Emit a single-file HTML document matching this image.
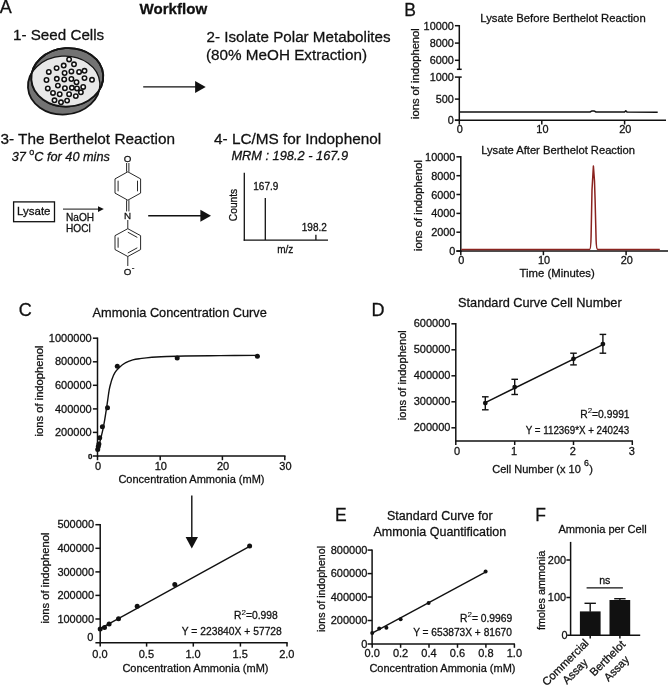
<!DOCTYPE html>
<html><head><meta charset="utf-8"><title>Workflow figure</title>
<style>
html,body{margin:0;padding:0;background:#fff;}
svg{display:block;font-family:"Liberation Sans",Arial,Helvetica,sans-serif;fill:#111;}
text{stroke:#111;stroke-width:0.28px;}
</style></head><body>
<svg width="668" height="685" viewBox="0 0 668 685">
<rect width="668" height="685" fill="#fff"/>
<text x="-0.3" y="12.6" font-size="18">A</text>
<text x="139.5" y="14.2" font-size="15.1" font-weight="bold">Workflow</text>
<text x="13.0" y="40.0" font-size="15.2">1- Seed Cells</text>
<text x="206.5" y="41.6" font-size="15.2">2- Isolate Polar Metabolites</text>
<text x="206.0" y="59.7" font-size="15.25">(80% MeOH Extraction)</text>
<text x="0.4" y="144.2" font-size="15.35">3- The Berthelot Reaction</text>
<text x="11.7" y="161.0" font-size="12.7" font-style="italic">37 <tspan dy="-6.3" font-size="9" font-style="normal">o</tspan><tspan dy="6.3">C for 40 mins</tspan></text>
<text x="214.0" y="144.3" font-size="15.35">4- LC/MS for Indophenol</text>
<text x="231.4" y="160.0" font-size="12.8" font-style="italic">MRM : 198.2 - 167.9</text>
<defs><clipPath id="rim"><ellipse cx="67.3" cy="77.3" rx="36" ry="29.2" transform="rotate(-4 67.3 77.3)"/></clipPath></defs>
<ellipse cx="67.3" cy="77.3" rx="36" ry="29.2" transform="translate(-3.4 8) rotate(-4 67.3 77.3)" fill="#737373" stroke="#141414" stroke-width="1.8"/>
<ellipse cx="67.3" cy="77.3" rx="36" ry="29.2" transform="rotate(-4 67.3 77.3)" fill="#737373" stroke="#141414" stroke-width="1.8"/>
<g clip-path="url(#rim)"><ellipse cx="67.3" cy="77.3" rx="36" ry="29.2" transform="translate(-3.4 8) rotate(-4 67.3 77.3)" fill="#e8e8e8" stroke="#141414" stroke-width="1.3"/></g>
<ellipse cx="67.3" cy="77.3" rx="36" ry="29.2" transform="rotate(-4 67.3 77.3)" fill="none" stroke="#141414" stroke-width="1.8"/>
<circle cx="69.1" cy="59.4" r="2.2" fill="#fff" stroke="#111" stroke-width="1.55"/>
<circle cx="74.0" cy="64.3" r="2.2" fill="#fff" stroke="#111" stroke-width="1.55"/>
<circle cx="63.7" cy="65.6" r="2.2" fill="#fff" stroke="#111" stroke-width="1.55"/>
<circle cx="56.6" cy="68.1" r="2.2" fill="#fff" stroke="#111" stroke-width="1.55"/>
<circle cx="48.8" cy="71.9" r="2.2" fill="#fff" stroke="#111" stroke-width="1.55"/>
<circle cx="64.6" cy="73.0" r="2.2" fill="#fff" stroke="#111" stroke-width="1.55"/>
<circle cx="71.4" cy="71.4" r="2.2" fill="#fff" stroke="#111" stroke-width="1.55"/>
<circle cx="79.1" cy="71.9" r="2.2" fill="#fff" stroke="#111" stroke-width="1.55"/>
<circle cx="84.5" cy="70.8" r="2.2" fill="#fff" stroke="#111" stroke-width="1.55"/>
<circle cx="46.5" cy="80.0" r="2.2" fill="#fff" stroke="#111" stroke-width="1.55"/>
<circle cx="56.8" cy="78.8" r="2.2" fill="#fff" stroke="#111" stroke-width="1.55"/>
<circle cx="64.2" cy="79.4" r="2.2" fill="#fff" stroke="#111" stroke-width="1.55"/>
<circle cx="71.4" cy="79.0" r="2.2" fill="#fff" stroke="#111" stroke-width="1.55"/>
<circle cx="76.5" cy="82.2" r="2.2" fill="#fff" stroke="#111" stroke-width="1.55"/>
<circle cx="84.5" cy="78.1" r="2.2" fill="#fff" stroke="#111" stroke-width="1.55"/>
<circle cx="92.0" cy="79.8" r="2.2" fill="#fff" stroke="#111" stroke-width="1.55"/>
<circle cx="47.8" cy="88.4" r="2.2" fill="#fff" stroke="#111" stroke-width="1.55"/>
<circle cx="57.9" cy="85.6" r="2.2" fill="#fff" stroke="#111" stroke-width="1.55"/>
<circle cx="64.9" cy="88.2" r="2.2" fill="#fff" stroke="#111" stroke-width="1.55"/>
<circle cx="71.9" cy="87.8" r="2.2" fill="#fff" stroke="#111" stroke-width="1.55"/>
<circle cx="77.0" cy="88.4" r="2.2" fill="#fff" stroke="#111" stroke-width="1.55"/>
<circle cx="83.2" cy="86.9" r="2.2" fill="#fff" stroke="#111" stroke-width="1.55"/>
<circle cx="53.0" cy="92.9" r="2.2" fill="#fff" stroke="#111" stroke-width="1.55"/>
<circle cx="59.7" cy="94.2" r="2.2" fill="#fff" stroke="#111" stroke-width="1.55"/>
<circle cx="69.1" cy="94.2" r="2.2" fill="#fff" stroke="#111" stroke-width="1.55"/>
<circle cx="75.8" cy="96.1" r="2.2" fill="#fff" stroke="#111" stroke-width="1.55"/>
<circle cx="80.9" cy="92.3" r="2.2" fill="#fff" stroke="#111" stroke-width="1.55"/>
<circle cx="54.5" cy="100.3" r="2.2" fill="#fff" stroke="#111" stroke-width="1.55"/>
<circle cx="61.0" cy="102.3" r="2.2" fill="#fff" stroke="#111" stroke-width="1.55"/>
<circle cx="67.1" cy="100.6" r="2.2" fill="#fff" stroke="#111" stroke-width="1.55"/>
<line x1="143.2" y1="86.9" x2="196.1" y2="86.9" stroke="#111" stroke-width="1.4"/>
<polygon points="205.7,86.9 195.1,80.9 195.1,92.9" fill="#111"/>
<rect x="13.6" y="201.9" width="40.9" height="19.8" fill="#fff" stroke="#111" stroke-width="1.3"/>
<text x="33.8" y="214.5" font-size="11.5" text-anchor="middle">Lysate</text>
<line x1="63.0" y1="209.1" x2="99.0" y2="209.1" stroke="#111" stroke-width="1.0"/>
<polygon points="103.8,209.1 98.0,206.2 98.0,212.0" fill="#111"/>
<text x="66.0" y="220.8" font-size="10.1">NaOH</text>
<text x="66.0" y="232.0" font-size="10.1">HOCl</text>
<polygon points="127.80,171.80 140.60,178.90 140.60,193.10 127.80,200.20 115.00,193.10 115.00,178.90" fill="none" stroke="#1c1c1c" stroke-width="0.95" stroke-linejoin="round"/>
<line x1="137.5" y1="180.7" x2="137.5" y2="191.3" stroke="#1c1c1c" stroke-width="0.95"/>
<line x1="118.1" y1="191.3" x2="118.1" y2="180.7" stroke="#1c1c1c" stroke-width="0.95"/>
<line x1="126.6" y1="171.8" x2="126.6" y2="163.0" stroke="#1c1c1c" stroke-width="0.95"/>
<line x1="128.9" y1="171.8" x2="128.9" y2="163.0" stroke="#1c1c1c" stroke-width="0.95"/>
<text x="127.6" y="161.5" font-size="9.8" text-anchor="middle" stroke="none">O</text>
<line x1="126.6" y1="200.2" x2="126.6" y2="211.4" stroke="#1c1c1c" stroke-width="0.95"/>
<line x1="128.9" y1="200.2" x2="128.9" y2="211.4" stroke="#1c1c1c" stroke-width="0.95"/>
<text x="127.6" y="219.4" font-size="9.8" text-anchor="middle" stroke="none">N</text>
<line x1="127.8" y1="220.0" x2="127.8" y2="228.7" stroke="#1c1c1c" stroke-width="0.95"/>
<polygon points="127.80,228.70 140.60,235.65 140.60,249.55 127.80,256.50 115.00,249.55 115.00,235.65" fill="none" stroke="#1c1c1c" stroke-width="0.95" stroke-linejoin="round"/>
<line x1="127.8" y1="232.2" x2="137.3" y2="237.4" stroke="#1c1c1c" stroke-width="0.95"/>
<line x1="137.3" y1="247.8" x2="127.8" y2="253.0" stroke="#1c1c1c" stroke-width="0.95"/>
<line x1="118.1" y1="247.7" x2="118.1" y2="237.5" stroke="#1c1c1c" stroke-width="0.95"/>
<line x1="127.8" y1="256.5" x2="127.8" y2="266.0" stroke="#1c1c1c" stroke-width="0.95"/>
<text x="127.6" y="274.8" font-size="9.8" text-anchor="middle" stroke="none">O</text>
<text x="131.7" y="270.3" font-size="8" stroke="none">-</text>
<line x1="148.2" y1="215.7" x2="201.4" y2="215.7" stroke="#111" stroke-width="1.4"/>
<polygon points="211.0,215.7 200.4,209.7 200.4,221.7" fill="#111"/>
<line x1="244.3" y1="172.8" x2="244.3" y2="240.8" stroke="#111" stroke-width="1.3"/>
<line x1="243.7" y1="240.2" x2="328.0" y2="240.2" stroke="#111" stroke-width="1.3"/>
<line x1="265.3" y1="198.0" x2="265.3" y2="240.0" stroke="#111" stroke-width="1.3"/>
<line x1="315.9" y1="234.8" x2="315.9" y2="240.0" stroke="#111" stroke-width="1.3"/>
<text x="253.3" y="190.0" font-size="10">167.9</text>
<text x="301.8" y="231.2" font-size="10">198.2</text>
<text x="236.8" y="205.0" font-size="10.2" text-anchor="middle" transform="rotate(-90 236.8 205.0)">Counts</text>
<text x="277.2" y="252.8" font-size="10">m/z</text>
<text x="404.2" y="16.4" font-size="17.5">B</text>
<text x="480.3" y="21.6" font-size="11.3">Lysate Before Berthelot Reaction</text>
<line x1="459.3" y1="25.0" x2="459.3" y2="69.3" stroke="#111" stroke-width="1.5"/>
<line x1="459.3" y1="77.1" x2="459.3" y2="121.0" stroke="#111" stroke-width="1.5"/>
<line x1="454.9" y1="25.7" x2="459.3" y2="25.7" stroke="#111" stroke-width="1.5"/>
<text x="453.9" y="29.7" font-size="10.9" text-anchor="end">10000</text>
<line x1="454.9" y1="43.1" x2="459.3" y2="43.1" stroke="#111" stroke-width="1.5"/>
<text x="453.9" y="47.1" font-size="10.9" text-anchor="end">8000</text>
<line x1="454.9" y1="60.3" x2="459.3" y2="60.3" stroke="#111" stroke-width="1.5"/>
<text x="453.9" y="64.3" font-size="10.9" text-anchor="end">6000</text>
<line x1="456.9" y1="69.3" x2="461.7" y2="69.3" stroke="#111" stroke-width="1.5"/>
<line x1="454.9" y1="77.1" x2="461.7" y2="77.1" stroke="#111" stroke-width="1.5"/>
<text x="453.9" y="81.1" font-size="10.9" text-anchor="end">1000</text>
<line x1="454.9" y1="99.1" x2="459.3" y2="99.1" stroke="#111" stroke-width="1.5"/>
<text x="453.9" y="103.1" font-size="10.9" text-anchor="end">500</text>
<line x1="454.9" y1="120.3" x2="459.3" y2="120.3" stroke="#111" stroke-width="1.5"/>
<text x="453.9" y="124.3" font-size="10.9" text-anchor="end">0</text>
<line x1="454.9" y1="120.3" x2="666.0" y2="120.3" stroke="#111" stroke-width="1.5"/>
<line x1="459.3" y1="120.3" x2="459.3" y2="124.6" stroke="#111" stroke-width="1.5"/>
<text x="459.9" y="133.2" font-size="10.9" text-anchor="middle">0</text>
<line x1="541.8" y1="120.3" x2="541.8" y2="124.6" stroke="#111" stroke-width="1.5"/>
<text x="542.4" y="133.2" font-size="10.9" text-anchor="middle">10</text>
<line x1="624.6" y1="120.3" x2="624.6" y2="124.6" stroke="#111" stroke-width="1.5"/>
<text x="625.2" y="133.2" font-size="10.9" text-anchor="middle">20</text>
<text x="418.8" y="73.6" font-size="11.2" text-anchor="middle" transform="rotate(-90 418.8 73.6)">ions of indophenol</text>
<path d="M459.3,112 L590,112 L591.6,111.1 L594.4,111.1 L596,112 L624.6,112.1 L625.8,110.8 L627,112.1 L657.7,112.2" fill="none" stroke="#111" stroke-width="1.5" stroke-linejoin="round"/>
<text x="481.2" y="153.7" font-size="11.2">Lysate After Berthelot Reaction</text>
<line x1="460.8" y1="156.1" x2="460.8" y2="251.9" stroke="#111" stroke-width="1.5"/>
<line x1="456.4" y1="156.8" x2="460.8" y2="156.8" stroke="#111" stroke-width="1.5"/>
<text x="455.4" y="160.8" font-size="10.9" text-anchor="end">10000</text>
<line x1="456.4" y1="175.7" x2="460.8" y2="175.7" stroke="#111" stroke-width="1.5"/>
<text x="455.4" y="179.7" font-size="10.9" text-anchor="end">8000</text>
<line x1="456.4" y1="194.5" x2="460.8" y2="194.5" stroke="#111" stroke-width="1.5"/>
<text x="455.4" y="198.5" font-size="10.9" text-anchor="end">6000</text>
<line x1="456.4" y1="213.4" x2="460.8" y2="213.4" stroke="#111" stroke-width="1.5"/>
<text x="455.4" y="217.4" font-size="10.9" text-anchor="end">4000</text>
<line x1="456.4" y1="232.2" x2="460.8" y2="232.2" stroke="#111" stroke-width="1.5"/>
<text x="455.4" y="236.2" font-size="10.9" text-anchor="end">2000</text>
<line x1="456.4" y1="251.1" x2="460.8" y2="251.1" stroke="#111" stroke-width="1.5"/>
<text x="455.4" y="255.1" font-size="10.9" text-anchor="end">0</text>
<line x1="456.4" y1="251.1" x2="668.0" y2="251.1" stroke="#111" stroke-width="1.5"/>
<line x1="460.8" y1="251.1" x2="460.8" y2="255.2" stroke="#111" stroke-width="1.5"/>
<text x="461.4" y="264.1" font-size="10.9" text-anchor="middle">0</text>
<line x1="543.4" y1="251.1" x2="543.4" y2="255.2" stroke="#111" stroke-width="1.5"/>
<text x="544.0" y="264.1" font-size="10.9" text-anchor="middle">10</text>
<line x1="626.1" y1="251.1" x2="626.1" y2="255.2" stroke="#111" stroke-width="1.5"/>
<text x="626.7" y="264.1" font-size="10.9" text-anchor="middle">20</text>
<text x="519.5" y="277.1" font-size="11.35">Time (Minutes)</text>
<text x="421.6" y="205.5" font-size="11.2" text-anchor="middle" transform="rotate(-90 421.6 205.5)">ions of indophenol</text>
<path d="M461.3,249.5 L589.6,249.5 C590.6,249.4 590.9,246 591.1,236 L592,190 L593.4,166 L594.5,181 L595.1,200 L596.1,240 C596.3,247 596.7,249.4 597.8,249.5 L659.8,249.5" fill="none" stroke="#8a231f" stroke-width="1.5" stroke-linejoin="round"/>
<text x="18.7" y="315.7" font-size="18">C</text>
<text x="92.5" y="317.3" font-size="12.75">Ammonia Concentration Curve</text>
<line x1="97.5" y1="337.5" x2="97.5" y2="456.9" stroke="#111" stroke-width="1.5"/>
<line x1="92.9" y1="338.2" x2="97.5" y2="338.2" stroke="#111" stroke-width="1.5"/>
<text x="91.7" y="341.8" font-size="11" text-anchor="end">1000000</text>
<line x1="92.9" y1="361.8" x2="97.5" y2="361.8" stroke="#111" stroke-width="1.5"/>
<text x="91.7" y="365.4" font-size="11" text-anchor="end">800000</text>
<line x1="92.9" y1="385.3" x2="97.5" y2="385.3" stroke="#111" stroke-width="1.5"/>
<text x="91.7" y="388.9" font-size="11" text-anchor="end">600000</text>
<line x1="92.9" y1="408.9" x2="97.5" y2="408.9" stroke="#111" stroke-width="1.5"/>
<text x="91.7" y="412.5" font-size="11" text-anchor="end">400000</text>
<line x1="92.9" y1="432.4" x2="97.5" y2="432.4" stroke="#111" stroke-width="1.5"/>
<text x="91.7" y="436.0" font-size="11" text-anchor="end">200000</text>
<text x="92.5" y="459.0" font-size="8" text-anchor="end" font-weight="bold">0</text>
<line x1="92.9" y1="456.1" x2="285.5" y2="456.1" stroke="#111" stroke-width="1.5"/>
<line x1="97.5" y1="456.1" x2="97.5" y2="460.2" stroke="#111" stroke-width="1.5"/>
<text x="98.1" y="469.6" font-size="11" text-anchor="middle">0</text>
<line x1="160.2" y1="456.1" x2="160.2" y2="460.2" stroke="#111" stroke-width="1.5"/>
<text x="160.8" y="469.6" font-size="11" text-anchor="middle">10</text>
<line x1="222.4" y1="456.1" x2="222.4" y2="460.2" stroke="#111" stroke-width="1.5"/>
<text x="223.0" y="469.6" font-size="11" text-anchor="middle">20</text>
<line x1="284.8" y1="456.1" x2="284.8" y2="460.2" stroke="#111" stroke-width="1.5"/>
<text x="285.4" y="469.6" font-size="11" text-anchor="middle">30</text>
<text x="118.4" y="483.4" font-size="11">Concentration Ammonia (mM)</text>
<text x="43.0" y="391.0" font-size="11.2" text-anchor="middle" transform="rotate(-90 43.0 391.0)">ions of indophenol</text>
<path d="M97.7,449.6 C98.1,448.1 99.4,444.0 100.3,440.4 C101.2,436.8 102.5,431.6 103.2,428.2 C103.9,424.8 104.1,423.2 104.7,419.8 C105.3,416.4 106.0,411.4 106.6,407.8 C107.1,404.2 107.6,401.0 108.0,398.0 C108.4,395.0 108.8,392.2 109.2,389.9 C109.6,387.6 110.0,386.1 110.5,384.3 C111.0,382.6 111.2,381.3 111.9,379.4 C112.6,377.5 113.7,374.7 114.9,372.7 C116.1,370.7 117.6,369.0 119.3,367.4 C121.0,365.8 123.0,364.1 125.3,362.9 C127.5,361.6 130.4,360.6 132.8,359.9 C135.2,359.2 137.8,358.9 140.0,358.6 C142.2,358.3 143.5,358.2 146.3,357.9 C149.1,357.6 153.2,357.2 156.6,357.0 C160.0,356.8 162.1,356.7 166.8,356.5 C171.5,356.3 176.1,356.1 185.0,356.0 C193.9,355.9 207.9,355.7 220.0,355.6 C232.1,355.5 251.2,355.4 257.4,355.4" fill="none" stroke="#111" stroke-width="1.4"/>
<circle cx="97.7" cy="449.4" r="2.5" fill="#111"/>
<circle cx="98.3" cy="446.6" r="2.5" fill="#111"/>
<circle cx="98.9" cy="444.1" r="2.5" fill="#111"/>
<circle cx="99.7" cy="437.8" r="2.5" fill="#111"/>
<circle cx="102.4" cy="426.7" r="2.5" fill="#111"/>
<circle cx="107.5" cy="407.7" r="2.5" fill="#111"/>
<circle cx="117.3" cy="366.2" r="2.5" fill="#111"/>
<circle cx="177.2" cy="357.9" r="2.5" fill="#111"/>
<circle cx="257.4" cy="356.2" r="2.5" fill="#111"/>
<line x1="191.8" y1="495.5" x2="191.8" y2="538.0" stroke="#111" stroke-width="1.4"/>
<polygon points="191.8,548.4 185.6,537.0 198.0,537.0" fill="#111"/>
<line x1="100.2" y1="524.0" x2="100.2" y2="643.5" stroke="#111" stroke-width="1.5"/>
<line x1="95.4" y1="524.7" x2="100.2" y2="524.7" stroke="#111" stroke-width="1.5"/>
<text x="94.1" y="528.3" font-size="11" text-anchor="end">500000</text>
<line x1="95.4" y1="548.3" x2="100.2" y2="548.3" stroke="#111" stroke-width="1.5"/>
<text x="94.1" y="551.9" font-size="11" text-anchor="end">400000</text>
<line x1="95.4" y1="571.9" x2="100.2" y2="571.9" stroke="#111" stroke-width="1.5"/>
<text x="94.1" y="575.5" font-size="11" text-anchor="end">300000</text>
<line x1="95.4" y1="595.4" x2="100.2" y2="595.4" stroke="#111" stroke-width="1.5"/>
<text x="94.1" y="599.0" font-size="11" text-anchor="end">200000</text>
<line x1="95.4" y1="619.0" x2="100.2" y2="619.0" stroke="#111" stroke-width="1.5"/>
<text x="94.1" y="622.6" font-size="11" text-anchor="end">100000</text>
<text x="93.4" y="641.4" font-size="11" text-anchor="end">0</text>
<line x1="95.4" y1="642.8" x2="287.7" y2="642.8" stroke="#111" stroke-width="1.5"/>
<line x1="100.2" y1="642.8" x2="100.2" y2="646.6" stroke="#111" stroke-width="1.5"/>
<text x="100.0" y="657.9" font-size="11" text-anchor="middle">0.0</text>
<line x1="146.6" y1="642.8" x2="146.6" y2="646.6" stroke="#111" stroke-width="1.5"/>
<text x="146.4" y="657.9" font-size="11" text-anchor="middle">0.5</text>
<line x1="193.3" y1="642.8" x2="193.3" y2="646.6" stroke="#111" stroke-width="1.5"/>
<text x="193.1" y="657.9" font-size="11" text-anchor="middle">1.0</text>
<line x1="240.4" y1="642.8" x2="240.4" y2="646.6" stroke="#111" stroke-width="1.5"/>
<text x="240.2" y="657.9" font-size="11" text-anchor="middle">1.5</text>
<line x1="287.0" y1="642.8" x2="287.0" y2="646.6" stroke="#111" stroke-width="1.5"/>
<text x="286.8" y="657.9" font-size="11" text-anchor="middle">2.0</text>
<text x="122.4" y="672.3" font-size="11">Concentration Ammonia (mM)</text>
<text x="48.6" y="578.0" font-size="11.2" text-anchor="middle" transform="rotate(-90 48.6 578.0)">ions of indophenol</text>
<line x1="100.2" y1="628.6" x2="249.6" y2="546.4" stroke="#111" stroke-width="1.4"/>
<circle cx="100.2" cy="628.9" r="2.5" fill="#111"/>
<circle cx="104.5" cy="627.5" r="2.5" fill="#111"/>
<circle cx="109.1" cy="624.1" r="2.5" fill="#111"/>
<circle cx="118.5" cy="618.7" r="2.5" fill="#111"/>
<circle cx="137.2" cy="606.2" r="2.5" fill="#111"/>
<circle cx="174.8" cy="584.5" r="2.5" fill="#111"/>
<circle cx="249.6" cy="546.1" r="2.5" fill="#111"/>
<text x="234.0" y="619.2" font-size="10.3">R<tspan dy="-4.6" font-size="8" stroke-width="0.1">2</tspan><tspan dy="4.6">=0.998</tspan></text>
<text x="181.8" y="635.2" font-size="10.3">Y = 223840X + 57728</text>
<text x="371.6" y="315.5" font-size="18">D</text>
<text x="458.0" y="307.3" font-size="12.75">Standard Curve Cell Number</text>
<line x1="455.8" y1="323.0" x2="455.8" y2="441.1" stroke="#111" stroke-width="1.5"/>
<line x1="451.4" y1="323.8" x2="455.8" y2="323.8" stroke="#111" stroke-width="1.5"/>
<text x="450.4" y="327.4" font-size="11" text-anchor="end">600000</text>
<line x1="451.4" y1="349.8" x2="455.8" y2="349.8" stroke="#111" stroke-width="1.5"/>
<text x="450.4" y="353.4" font-size="11" text-anchor="end">500000</text>
<line x1="451.4" y1="375.8" x2="455.8" y2="375.8" stroke="#111" stroke-width="1.5"/>
<text x="450.4" y="379.4" font-size="11" text-anchor="end">400000</text>
<line x1="451.4" y1="401.8" x2="455.8" y2="401.8" stroke="#111" stroke-width="1.5"/>
<text x="450.4" y="405.4" font-size="11" text-anchor="end">300000</text>
<line x1="451.4" y1="427.8" x2="455.8" y2="427.8" stroke="#111" stroke-width="1.5"/>
<text x="450.4" y="431.4" font-size="11" text-anchor="end">200000</text>
<line x1="455.1" y1="441.1" x2="633.0" y2="441.1" stroke="#111" stroke-width="1.5"/>
<line x1="455.8" y1="441.1" x2="455.8" y2="445.0" stroke="#111" stroke-width="1.5"/>
<text x="457.0" y="454.8" font-size="11" text-anchor="middle">0</text>
<line x1="514.7" y1="441.1" x2="514.7" y2="445.0" stroke="#111" stroke-width="1.5"/>
<text x="514.1" y="454.8" font-size="11" text-anchor="middle">1</text>
<line x1="573.5" y1="441.1" x2="573.5" y2="445.0" stroke="#111" stroke-width="1.5"/>
<text x="572.9" y="454.8" font-size="11" text-anchor="middle">2</text>
<line x1="632.3" y1="441.1" x2="632.3" y2="445.0" stroke="#111" stroke-width="1.5"/>
<text x="631.7" y="454.8" font-size="11" text-anchor="middle">3</text>
<text x="492.2" y="473.0" font-size="11">Cell Number (x 10 <tspan dy="-6.6" font-size="8.8">6</tspan><tspan dy="6.6" dx="0.5">)</tspan></text>
<text x="406.0" y="375.2" font-size="11.1" text-anchor="middle" transform="rotate(-90 406.0 375.2)">ions of indophenol</text>
<line x1="485.3" y1="402.6" x2="602.9" y2="344.6" stroke="#111" stroke-width="1.5"/>
<line x1="485.3" y1="396.8" x2="485.3" y2="409.8" stroke="#111" stroke-width="1.4"/>
<line x1="482.0" y1="396.8" x2="488.6" y2="396.8" stroke="#111" stroke-width="1.4"/>
<line x1="482.0" y1="409.8" x2="488.6" y2="409.8" stroke="#111" stroke-width="1.4"/>
<circle cx="485.3" cy="403.1" r="2.4" fill="#111"/>
<line x1="514.7" y1="379.3" x2="514.7" y2="394.5" stroke="#111" stroke-width="1.4"/>
<line x1="511.4" y1="379.3" x2="518.0" y2="379.3" stroke="#111" stroke-width="1.4"/>
<line x1="511.4" y1="394.5" x2="518.0" y2="394.5" stroke="#111" stroke-width="1.4"/>
<circle cx="514.7" cy="387.1" r="2.4" fill="#111"/>
<line x1="573.5" y1="353.2" x2="573.5" y2="364.9" stroke="#111" stroke-width="1.4"/>
<line x1="570.2" y1="353.2" x2="576.8" y2="353.2" stroke="#111" stroke-width="1.4"/>
<line x1="570.2" y1="364.9" x2="576.8" y2="364.9" stroke="#111" stroke-width="1.4"/>
<circle cx="573.5" cy="358.8" r="2.4" fill="#111"/>
<line x1="602.9" y1="334.4" x2="602.9" y2="353.2" stroke="#111" stroke-width="1.4"/>
<line x1="599.6" y1="334.4" x2="606.2" y2="334.4" stroke="#111" stroke-width="1.4"/>
<line x1="599.6" y1="353.2" x2="606.2" y2="353.2" stroke="#111" stroke-width="1.4"/>
<circle cx="602.9" cy="344.1" r="2.4" fill="#111"/>
<text x="580.2" y="417.6" font-size="10.3">R<tspan dy="-4.6" font-size="8" stroke-width="0.1">2</tspan><tspan dy="4.6">=0.9991</tspan></text>
<text x="525.8" y="433.6" font-size="10.2" textLength="103.4" lengthAdjust="spacingAndGlyphs">Y = 112369*X + 240243</text>
<text x="335.0" y="520.8" font-size="17.5">E</text>
<text x="439.8" y="520.2" font-size="12.5" text-anchor="middle">Standard Curve for</text>
<text x="439.8" y="535.5" font-size="12.5" text-anchor="middle">Ammonia Quantification</text>
<line x1="372.1" y1="549.4" x2="372.1" y2="644.6" stroke="#111" stroke-width="1.5"/>
<line x1="367.6" y1="550.1" x2="372.1" y2="550.1" stroke="#111" stroke-width="1.5"/>
<text x="367.4" y="553.7" font-size="11" text-anchor="end">800000</text>
<line x1="367.6" y1="573.6" x2="372.1" y2="573.6" stroke="#111" stroke-width="1.5"/>
<text x="367.4" y="577.2" font-size="11" text-anchor="end">600000</text>
<line x1="367.6" y1="597.0" x2="372.1" y2="597.0" stroke="#111" stroke-width="1.5"/>
<text x="367.4" y="600.6" font-size="11" text-anchor="end">400000</text>
<line x1="367.6" y1="620.5" x2="372.1" y2="620.5" stroke="#111" stroke-width="1.5"/>
<text x="367.4" y="624.1" font-size="11" text-anchor="end">200000</text>
<text x="367.4" y="647.5" font-size="11" text-anchor="end">0</text>
<line x1="367.6" y1="643.9" x2="514.9" y2="643.9" stroke="#111" stroke-width="1.5"/>
<line x1="372.2" y1="643.9" x2="372.2" y2="647.8" stroke="#111" stroke-width="1.5"/>
<text x="372.2" y="656.6" font-size="11" text-anchor="middle">0.0</text>
<line x1="400.6" y1="643.9" x2="400.6" y2="647.8" stroke="#111" stroke-width="1.5"/>
<text x="400.6" y="656.6" font-size="11" text-anchor="middle">0.2</text>
<line x1="429.0" y1="643.9" x2="429.0" y2="647.8" stroke="#111" stroke-width="1.5"/>
<text x="429.0" y="656.6" font-size="11" text-anchor="middle">0.4</text>
<line x1="457.5" y1="643.9" x2="457.5" y2="647.8" stroke="#111" stroke-width="1.5"/>
<text x="457.5" y="656.6" font-size="11" text-anchor="middle">0.6</text>
<line x1="485.9" y1="643.9" x2="485.9" y2="647.8" stroke="#111" stroke-width="1.5"/>
<text x="485.9" y="656.6" font-size="11" text-anchor="middle">0.8</text>
<line x1="514.4" y1="643.9" x2="514.4" y2="647.8" stroke="#111" stroke-width="1.5"/>
<text x="514.4" y="656.6" font-size="11" text-anchor="middle">1.0</text>
<text x="369.4" y="671.6" font-size="11">Concentration Ammonia (mM)</text>
<text x="324.9" y="589.0" font-size="10.6" text-anchor="middle" transform="rotate(-90 324.9 589.0)">ions of indophenol</text>
<line x1="372.2" y1="633.1" x2="485.9" y2="571.9" stroke="#111" stroke-width="1.4"/>
<circle cx="372.2" cy="632.9" r="2.0" fill="#111"/>
<circle cx="379.2" cy="628.5" r="2.0" fill="#111"/>
<circle cx="386.4" cy="627.8" r="2.0" fill="#111"/>
<circle cx="400.6" cy="619.2" r="2.0" fill="#111"/>
<circle cx="428.6" cy="603.1" r="2.0" fill="#111"/>
<circle cx="485.6" cy="571.5" r="2.0" fill="#111"/>
<text x="460.0" y="621.8" font-size="10.3">R<tspan dy="-4.6" font-size="8" stroke-width="0.1">2</tspan><tspan dy="4.6">= 0.9969</tspan></text>
<text x="413.2" y="636.0" font-size="10.2" textLength="98.7" lengthAdjust="spacingAndGlyphs">Y = 653873X + 81670</text>
<text x="535.2" y="521.4" font-size="17.5">F</text>
<text x="558.4" y="532.5" font-size="11.12">Ammonia per Cell</text>
<line x1="570.6" y1="541.9" x2="570.6" y2="636.0" stroke="#111" stroke-width="1.5"/>
<line x1="566.4" y1="560.0" x2="570.6" y2="560.0" stroke="#111" stroke-width="1.5"/>
<text x="566.0" y="563.6" font-size="10.9" text-anchor="end">200</text>
<line x1="566.4" y1="597.5" x2="570.6" y2="597.5" stroke="#111" stroke-width="1.5"/>
<text x="566.0" y="601.1" font-size="10.9" text-anchor="end">100</text>
<text x="567.6" y="638.9" font-size="10.9" text-anchor="end">0</text>
<line x1="567.2" y1="635.3" x2="640.2" y2="635.3" stroke="#111" stroke-width="1.5"/>
<line x1="590.2" y1="635.3" x2="590.2" y2="638.6" stroke="#111" stroke-width="1.5"/>
<line x1="619.9" y1="635.3" x2="619.9" y2="638.6" stroke="#111" stroke-width="1.5"/>
<rect x="579.9" y="611.4" width="20.7" height="23.9" fill="#111"/>
<rect x="609.5" y="600.0" width="20.7" height="35.3" fill="#111"/>
<line x1="590.2" y1="611.8" x2="590.2" y2="603.3" stroke="#111" stroke-width="1.4"/>
<line x1="584.5" y1="603.3" x2="595.9" y2="603.3" stroke="#111" stroke-width="1.4"/>
<line x1="619.9" y1="600.4" x2="619.9" y2="598.7" stroke="#111" stroke-width="1.4"/>
<line x1="614.2" y1="598.7" x2="625.6" y2="598.7" stroke="#111" stroke-width="1.4"/>
<line x1="586.6" y1="587.9" x2="622.9" y2="587.9" stroke="#111" stroke-width="1.4"/>
<text x="604.8" y="584.3" font-size="10.6" text-anchor="middle">ns</text>
<text x="568.1" y="665.1" font-size="11.3" text-anchor="middle" transform="rotate(-45 568.1 665.1)">Commercial</text>
<text x="577.7" y="674.0" font-size="11.2" text-anchor="middle" transform="rotate(-45 577.7 674.0)">Assay</text>
<text x="610.0" y="661.0" font-size="11.2" text-anchor="middle" transform="rotate(-45 610.0 661.0)">Berthelot</text>
<text x="619.2" y="671.1" font-size="11.2" text-anchor="middle" transform="rotate(-45 619.2 671.1)">Assay</text>
<text x="544.6" y="590.3" font-size="10.8" text-anchor="middle" transform="rotate(-90 544.6 590.3)">fmoles ammonia</text>
</svg>
</body></html>
